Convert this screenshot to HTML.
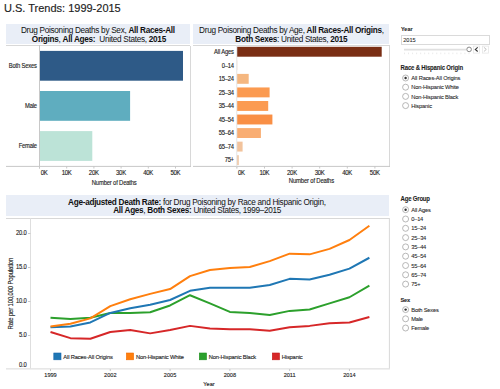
<!DOCTYPE html>
<html><head><meta charset="utf-8"><style>
html,body{margin:0;padding:0;background:#fff;width:500px;height:389px;overflow:hidden}
svg{display:block;font-family:"Liberation Sans", sans-serif}
</style></head><body>
<svg width="500" height="389" viewBox="0 0 500 389">
<text transform="translate(4,11.9) scale(1,1.06)" font-size="11" text-anchor="start" font-weight="normal" fill="#222" stroke="#222" stroke-width="0.15">U.S. Trends: 1999-2015</text>
<rect x="6" y="24" width="184" height="20" fill="#e9eef7" />
<text transform="translate(98,33.2) scale(1,1.0)" font-size="8.21" textLength="154.08" lengthAdjust="spacing" text-anchor="middle" font-weight="normal" fill="#111" >Drug Poisoning Deaths by Sex, <tspan font-weight="bold">All Races-All</tspan></text>
<text transform="translate(99,41.7) scale(1,1.0)" font-size="8.21" textLength="134.41" lengthAdjust="spacing" text-anchor="middle" font-weight="normal" fill="#111" xml:space="preserve"><tspan font-weight="bold">Origins</tspan>, <tspan font-weight="bold">All Ages:</tspan>  United States, <tspan font-weight="bold">2015</tspan></text>
<line x1="6" y1="45.5" x2="190" y2="45.5" stroke="#d8d8d8" stroke-width="1" />
<line x1="190.5" y1="46" x2="190.5" y2="167" stroke="#d8d8d8" stroke-width="1" />
<rect x="40" y="50.9" width="143" height="29.8" fill="#2e5a87" />
<text transform="translate(37,67.8) scale(1,1.08)" font-size="5.83" textLength="28.14" lengthAdjust="spacing" text-anchor="end" font-weight="normal" fill="#1e1e1e"  stroke="#1e1e1e" stroke-width="0.12">Both Sexes</text>
<rect x="40" y="91.0" width="90.1" height="29.8" fill="#5fadbf" />
<text transform="translate(37,107.9) scale(1,1.08)" font-size="5.83" textLength="11.92" lengthAdjust="spacing" text-anchor="end" font-weight="normal" fill="#1e1e1e"  stroke="#1e1e1e" stroke-width="0.12">Male</text>
<rect x="40" y="131.1" width="52.3" height="29.8" fill="#bce3d7" />
<text transform="translate(37,148.0) scale(1,1.08)" font-size="5.83" textLength="18.34" lengthAdjust="spacing" text-anchor="end" font-weight="normal" fill="#1e1e1e"  stroke="#1e1e1e" stroke-width="0.12">Female</text>
<line x1="6" y1="166.4" x2="191" y2="166.4" stroke="#c8c8c8" stroke-width="1" />
<line x1="39.5" y1="45" x2="39.5" y2="168.5" stroke="#c8c8c8" stroke-width="1" />
<line x1="39.5" y1="166" x2="39.5" y2="168.5" stroke="#c8c8c8" stroke-width="1" />
<text transform="translate(44.2,175) scale(1,1.08)" font-size="6.04" textLength="6.97" lengthAdjust="spacing" text-anchor="middle" font-weight="normal" fill="#1e1e1e"  stroke="#1e1e1e" stroke-width="0.12">0K</text>
<line x1="66.7" y1="166" x2="66.7" y2="168.5" stroke="#c8c8c8" stroke-width="1" />
<text transform="translate(66.7,175) scale(1,1.08)" font-size="6.04" textLength="10.12" lengthAdjust="spacing" text-anchor="middle" font-weight="normal" fill="#1e1e1e"  stroke="#1e1e1e" stroke-width="0.12">10K</text>
<line x1="93.9" y1="166" x2="93.9" y2="168.5" stroke="#c8c8c8" stroke-width="1" />
<text transform="translate(93.9,175) scale(1,1.08)" font-size="6.04" textLength="10.12" lengthAdjust="spacing" text-anchor="middle" font-weight="normal" fill="#1e1e1e"  stroke="#1e1e1e" stroke-width="0.12">20K</text>
<line x1="121.1" y1="166" x2="121.1" y2="168.5" stroke="#c8c8c8" stroke-width="1" />
<text transform="translate(121.1,175) scale(1,1.08)" font-size="6.04" textLength="10.12" lengthAdjust="spacing" text-anchor="middle" font-weight="normal" fill="#1e1e1e"  stroke="#1e1e1e" stroke-width="0.12">30K</text>
<line x1="148.3" y1="166" x2="148.3" y2="168.5" stroke="#c8c8c8" stroke-width="1" />
<text transform="translate(148.3,175) scale(1,1.08)" font-size="6.04" textLength="10.12" lengthAdjust="spacing" text-anchor="middle" font-weight="normal" fill="#1e1e1e"  stroke="#1e1e1e" stroke-width="0.12">40K</text>
<line x1="175.5" y1="166" x2="175.5" y2="168.5" stroke="#c8c8c8" stroke-width="1" />
<text transform="translate(175.5,175) scale(1,1.08)" font-size="6.04" textLength="10.12" lengthAdjust="spacing" text-anchor="middle" font-weight="normal" fill="#1e1e1e"  stroke="#1e1e1e" stroke-width="0.12">50K</text>
<text transform="translate(114.3,184.5) scale(1,1.08)" font-size="5.88" textLength="45.02" lengthAdjust="spacing" text-anchor="middle" font-weight="normal" fill="#1e1e1e"  stroke="#1e1e1e" stroke-width="0.12">Number of Deaths</text>
<rect x="193" y="24" width="196" height="20" fill="#e9eef7" />
<text transform="translate(291.5,33.1) scale(1,1.0)" font-size="8.21" textLength="184.91" lengthAdjust="spacing" text-anchor="middle" font-weight="normal" fill="#111" >Drug Poisoning Deaths by Age, <tspan font-weight="bold">All Races-All Origins</tspan>,</text>
<text transform="translate(291.5,41.6) scale(1,1.0)" font-size="8.21" textLength="112.30" lengthAdjust="spacing" text-anchor="middle" font-weight="normal" fill="#111" ><tspan font-weight="bold">Both Sexes</tspan>: United States, <tspan font-weight="bold">2015</tspan></text>
<line x1="193" y1="45.5" x2="390" y2="45.5" stroke="#d8d8d8" stroke-width="1" />
<line x1="389.5" y1="46" x2="389.5" y2="167" stroke="#d8d8d8" stroke-width="1" />
<rect x="237" y="46.8" width="144.7" height="9.9" fill="#7a2e14" />
<text transform="translate(234,54.0) scale(1,1.08)" font-size="5.83" textLength="19.88" lengthAdjust="spacing" text-anchor="end" font-weight="normal" fill="#1e1e1e"  stroke="#1e1e1e" stroke-width="0.12">All Ages</text>
<rect x="237" y="60.349999999999994" width="0.19999999999998863" height="9.9" fill="#f5c39a" />
<text transform="translate(234,67.55) scale(1,1.08)" font-size="5.83" textLength="12.25" lengthAdjust="spacing" text-anchor="end" font-weight="normal" fill="#1e1e1e"  stroke="#1e1e1e" stroke-width="0.12">0–14</text>
<rect x="237" y="73.9" width="11.699999999999989" height="9.9" fill="#f5b780" />
<text transform="translate(234,81.10000000000001) scale(1,1.08)" font-size="5.83" textLength="15.30" lengthAdjust="spacing" text-anchor="end" font-weight="normal" fill="#1e1e1e"  stroke="#1e1e1e" stroke-width="0.12">15–24</text>
<rect x="237" y="87.45" width="32.60000000000002" height="9.9" fill="#fb9a50" />
<text transform="translate(234,94.65) scale(1,1.08)" font-size="5.83" textLength="15.30" lengthAdjust="spacing" text-anchor="end" font-weight="normal" fill="#1e1e1e"  stroke="#1e1e1e" stroke-width="0.12">25–34</text>
<rect x="237" y="101.0" width="31.19999999999999" height="9.9" fill="#fb9b52" />
<text transform="translate(234,108.2) scale(1,1.08)" font-size="5.83" textLength="15.30" lengthAdjust="spacing" text-anchor="end" font-weight="normal" fill="#1e1e1e"  stroke="#1e1e1e" stroke-width="0.12">35–44</text>
<rect x="237" y="114.55" width="35.39999999999998" height="9.9" fill="#f98f45" />
<text transform="translate(234,121.75) scale(1,1.08)" font-size="5.83" textLength="15.30" lengthAdjust="spacing" text-anchor="end" font-weight="normal" fill="#1e1e1e"  stroke="#1e1e1e" stroke-width="0.12">45–54</text>
<rect x="237" y="128.10000000000002" width="23.899999999999977" height="9.9" fill="#f9ad72" />
<text transform="translate(234,135.3) scale(1,1.08)" font-size="5.83" textLength="15.30" lengthAdjust="spacing" text-anchor="end" font-weight="normal" fill="#1e1e1e"  stroke="#1e1e1e" stroke-width="0.12">55–64</text>
<rect x="237" y="141.65" width="5.599999999999994" height="9.9" fill="#f2c39c" />
<text transform="translate(234,148.85) scale(1,1.08)" font-size="5.83" textLength="15.30" lengthAdjust="spacing" text-anchor="end" font-weight="normal" fill="#1e1e1e"  stroke="#1e1e1e" stroke-width="0.12">65–74</text>
<rect x="237" y="155.2" width="1.8000000000000114" height="9.9" fill="#f0c7a5" />
<text transform="translate(234,162.39999999999998) scale(1,1.08)" font-size="5.83" textLength="9.34" lengthAdjust="spacing" text-anchor="end" font-weight="normal" fill="#1e1e1e"  stroke="#1e1e1e" stroke-width="0.12">75+</text>
<line x1="193" y1="166.4" x2="390" y2="166.4" stroke="#c8c8c8" stroke-width="1" />
<line x1="236.75" y1="45" x2="236.75" y2="168.5" stroke="#e4e4e4" stroke-width="1" />
<line x1="236.9" y1="166" x2="236.9" y2="168.5" stroke="#c8c8c8" stroke-width="1" />
<text transform="translate(241.6,175) scale(1,1.08)" font-size="6.04" textLength="6.97" lengthAdjust="spacing" text-anchor="middle" font-weight="normal" fill="#1e1e1e"  stroke="#1e1e1e" stroke-width="0.12">0K</text>
<line x1="264.5" y1="166" x2="264.5" y2="168.5" stroke="#c8c8c8" stroke-width="1" />
<text transform="translate(264.5,175) scale(1,1.08)" font-size="6.04" textLength="10.12" lengthAdjust="spacing" text-anchor="middle" font-weight="normal" fill="#1e1e1e"  stroke="#1e1e1e" stroke-width="0.12">10K</text>
<line x1="292.1" y1="166" x2="292.1" y2="168.5" stroke="#c8c8c8" stroke-width="1" />
<text transform="translate(292.1,175) scale(1,1.08)" font-size="6.04" textLength="10.12" lengthAdjust="spacing" text-anchor="middle" font-weight="normal" fill="#1e1e1e"  stroke="#1e1e1e" stroke-width="0.12">20K</text>
<line x1="319.70000000000005" y1="166" x2="319.70000000000005" y2="168.5" stroke="#c8c8c8" stroke-width="1" />
<text transform="translate(319.70000000000005,175) scale(1,1.08)" font-size="6.04" textLength="10.12" lengthAdjust="spacing" text-anchor="middle" font-weight="normal" fill="#1e1e1e"  stroke="#1e1e1e" stroke-width="0.12">30K</text>
<line x1="347.3" y1="166" x2="347.3" y2="168.5" stroke="#c8c8c8" stroke-width="1" />
<text transform="translate(347.3,175) scale(1,1.08)" font-size="6.04" textLength="10.12" lengthAdjust="spacing" text-anchor="middle" font-weight="normal" fill="#1e1e1e"  stroke="#1e1e1e" stroke-width="0.12">40K</text>
<line x1="374.9" y1="166" x2="374.9" y2="168.5" stroke="#c8c8c8" stroke-width="1" />
<text transform="translate(374.9,175) scale(1,1.08)" font-size="6.04" textLength="10.12" lengthAdjust="spacing" text-anchor="middle" font-weight="normal" fill="#1e1e1e"  stroke="#1e1e1e" stroke-width="0.12">50K</text>
<text transform="translate(311.5,182.9) scale(1,1.08)" font-size="5.94" textLength="45.41" lengthAdjust="spacing" text-anchor="middle" font-weight="normal" fill="#1e1e1e"  stroke="#1e1e1e" stroke-width="0.12">Number of Deaths</text>
<rect x="6" y="195" width="383" height="21" fill="#e9eef7" />
<text transform="translate(197,205.1) scale(1,1.0)" font-size="8.21" textLength="257.88" lengthAdjust="spacing" text-anchor="middle" font-weight="normal" fill="#111" ><tspan font-weight="bold">Age-adjusted Death Rate:</tspan> for Drug Poisoning by Race and Hispanic Origin,</text>
<text transform="translate(197.3,213.3) scale(1,1.0)" font-size="8.21" textLength="168.17" lengthAdjust="spacing" text-anchor="middle" font-weight="normal" fill="#111" ><tspan font-weight="bold">All Ages</tspan>, <tspan font-weight="bold">Both Sexes:</tspan> United States, 1999–2015</text>
<line x1="6" y1="218.5" x2="389" y2="218.5" stroke="#d8d8d8" stroke-width="1" />
<line x1="389.4" y1="218" x2="389.4" y2="368.5" stroke="#d8d8d8" stroke-width="1" />
<line x1="6" y1="368.9" x2="389.9" y2="368.9" stroke="#d8d8d8" stroke-width="1" />
<line x1="30.5" y1="218" x2="30.5" y2="368.5" stroke="#dedede" stroke-width="1" />
<text transform="translate(26.7,366.8) scale(1,1.08)" font-size="5.83" textLength="7.66" lengthAdjust="spacing" text-anchor="end" font-weight="normal" fill="#1e1e1e"  stroke="#1e1e1e" stroke-width="0.12">0.0</text>
<line x1="28" y1="335.5" x2="30.5" y2="335.5" stroke="#c8c8c8" stroke-width="1" />
<text transform="translate(26.7,336.83500000000004) scale(1,1.08)" font-size="5.83" textLength="7.66" lengthAdjust="spacing" text-anchor="end" font-weight="normal" fill="#1e1e1e"  stroke="#1e1e1e" stroke-width="0.12">5.0</text>
<line x1="28" y1="301.5" x2="30.5" y2="301.5" stroke="#c8c8c8" stroke-width="1" />
<text transform="translate(26.7,302.77000000000004) scale(1,1.08)" font-size="5.83" textLength="10.72" lengthAdjust="spacing" text-anchor="end" font-weight="normal" fill="#1e1e1e"  stroke="#1e1e1e" stroke-width="0.12">10.0</text>
<line x1="28" y1="267.5" x2="30.5" y2="267.5" stroke="#c8c8c8" stroke-width="1" />
<text transform="translate(26.7,268.70500000000004) scale(1,1.08)" font-size="5.83" textLength="10.72" lengthAdjust="spacing" text-anchor="end" font-weight="normal" fill="#1e1e1e"  stroke="#1e1e1e" stroke-width="0.12">15.0</text>
<line x1="28" y1="233.5" x2="30.5" y2="233.5" stroke="#c8c8c8" stroke-width="1" />
<text transform="translate(26.7,234.64000000000001) scale(1,1.08)" font-size="5.83" textLength="10.72" lengthAdjust="spacing" text-anchor="end" font-weight="normal" fill="#1e1e1e"  stroke="#1e1e1e" stroke-width="0.12">20.0</text>
<text x="0" y="0" font-size="5.99" textLength="71.83" lengthAdjust="spacing" text-anchor="middle" font-weight="normal" fill="#1e1e1e" transform="translate(13.3,293.6) rotate(-90) scale(1,1.1)" stroke="#1e1e1e" stroke-width="0.12">Rate per 100,000 Population</text>
<line x1="50.5" y1="369" x2="50.5" y2="371" stroke="#c8c8c8" stroke-width="1" />
<text transform="translate(50.5,377.1) scale(1,1.0)" font-size="5.6" text-anchor="middle" font-weight="normal" fill="#1e1e1e"  stroke="#1e1e1e" stroke-width="0.12">1999</text>
<line x1="110.28999999999999" y1="369" x2="110.28999999999999" y2="371" stroke="#c8c8c8" stroke-width="1" />
<text transform="translate(110.28999999999999,377.1) scale(1,1.0)" font-size="5.6" text-anchor="middle" font-weight="normal" fill="#1e1e1e"  stroke="#1e1e1e" stroke-width="0.12">2002</text>
<line x1="170.07999999999998" y1="369" x2="170.07999999999998" y2="371" stroke="#c8c8c8" stroke-width="1" />
<text transform="translate(170.07999999999998,377.1) scale(1,1.0)" font-size="5.6" text-anchor="middle" font-weight="normal" fill="#1e1e1e"  stroke="#1e1e1e" stroke-width="0.12">2005</text>
<line x1="229.87" y1="369" x2="229.87" y2="371" stroke="#c8c8c8" stroke-width="1" />
<text transform="translate(229.87,377.1) scale(1,1.0)" font-size="5.6" text-anchor="middle" font-weight="normal" fill="#1e1e1e"  stroke="#1e1e1e" stroke-width="0.12">2008</text>
<line x1="289.65999999999997" y1="369" x2="289.65999999999997" y2="371" stroke="#c8c8c8" stroke-width="1" />
<text transform="translate(289.65999999999997,377.1) scale(1,1.0)" font-size="5.6" text-anchor="middle" font-weight="normal" fill="#1e1e1e"  stroke="#1e1e1e" stroke-width="0.12">2011</text>
<line x1="349.45" y1="369" x2="349.45" y2="371" stroke="#c8c8c8" stroke-width="1" />
<text transform="translate(349.45,377.1) scale(1,1.0)" font-size="5.6" text-anchor="middle" font-weight="normal" fill="#1e1e1e"  stroke="#1e1e1e" stroke-width="0.12">2014</text>
<text transform="translate(209,385.6) scale(1,1.05)" font-size="5.6" text-anchor="middle" font-weight="normal" fill="#1e1e1e"  stroke="#1e1e1e" stroke-width="0.12">Year</text>
<polyline points="50.50,332.01 70.43,338.14 90.36,338.82 110.29,332.01 130.22,329.97 150.15,333.37 170.08,329.97 190.01,325.88 209.94,328.60 229.87,329.28 249.80,329.28 269.73,330.65 289.66,327.24 309.59,325.88 329.52,323.15 349.45,322.47 369.38,317.02" fill="none" stroke="#d62728" stroke-width="2" stroke-linejoin="round"/>
<polyline points="50.50,317.70 70.43,319.07 90.36,317.70 110.29,312.93 130.22,312.93 150.15,312.25 170.08,305.44 190.01,295.22 209.94,303.40 229.87,311.91 249.80,312.93 269.73,314.98 289.66,310.89 309.59,309.53 329.52,303.40 349.45,297.26 369.38,285.68" fill="none" stroke="#2ca02c" stroke-width="2" stroke-linejoin="round"/>
<polyline points="50.50,327.24 70.43,326.56 90.36,322.47 110.29,312.93 130.22,308.16 150.15,304.76 170.08,299.99 190.01,290.79 209.94,287.73 229.87,287.73 249.80,287.73 269.73,285.00 289.66,278.87 309.59,279.55 329.52,274.78 349.45,268.65 369.38,257.75" fill="none" stroke="#1f77b4" stroke-width="2" stroke-linejoin="round"/>
<polyline points="50.50,326.56 70.43,323.83 90.36,318.38 110.29,306.12 130.22,299.31 150.15,293.86 170.08,289.09 190.01,276.14 209.94,270.01 229.87,267.97 249.80,266.95 269.73,261.15 289.66,253.66 309.59,254.34 329.52,248.89 349.45,240.03 369.38,225.73" fill="none" stroke="#ff7f0e" stroke-width="2" stroke-linejoin="round"/>
<rect x="53.8" y="353.0" width="7.2" height="6.8" fill="#1f77b4" stroke="#1565ad" stroke-width="0.6"/>
<text transform="translate(63.3,358.8) scale(1,1.08)" font-size="5.78" textLength="49.56" lengthAdjust="spacing" text-anchor="start" font-weight="normal" fill="#1e1e1e"  stroke="#1e1e1e" stroke-width="0.12">All Races-All Origins</text>
<rect x="126.39999999999999" y="353.0" width="7.2" height="6.8" fill="#ff7f0e" stroke="#f06a00" stroke-width="0.6"/>
<text transform="translate(135.9,358.8) scale(1,1.08)" font-size="5.78" textLength="48.06" lengthAdjust="spacing" text-anchor="start" font-weight="normal" fill="#1e1e1e"  stroke="#1e1e1e" stroke-width="0.12">Non-Hispanic White</text>
<rect x="199.3" y="353.0" width="7.2" height="6.8" fill="#2ca02c" stroke="#1f8f1f" stroke-width="0.6"/>
<text transform="translate(208.8,358.8) scale(1,1.08)" font-size="5.78" textLength="47.45" lengthAdjust="spacing" text-anchor="start" font-weight="normal" fill="#1e1e1e"  stroke="#1e1e1e" stroke-width="0.12">Non-Hispanic Black</text>
<rect x="272.3" y="353.0" width="7.2" height="6.8" fill="#d62728" stroke="#c41a1b" stroke-width="0.6"/>
<text transform="translate(281.8,358.8) scale(1,1.08)" font-size="5.78" textLength="20.86" lengthAdjust="spacing" text-anchor="start" font-weight="normal" fill="#1e1e1e"  stroke="#1e1e1e" stroke-width="0.12">Hispanic</text>
<text transform="translate(401,31.1) scale(1,1.05)" font-size="5.5" text-anchor="start" font-weight="bold" fill="#1e1e1e"  stroke="#1e1e1e" stroke-width="0.08">Year</text>
<rect x="401.5" y="35.5" width="88" height="9" fill="#fff" stroke="#dadada" stroke-width="1"/>
<text transform="translate(403.2,42.2) scale(1,1.02)" font-size="5.6" text-anchor="start" font-weight="normal" fill="#1e1e1e"  stroke="#1e1e1e" stroke-width="0.08">2015</text>
<line x1="404" y1="49.6" x2="466" y2="49.6" stroke="#e0e0e0" stroke-width="1.6" />
<line x1="404.5" y1="52.6" x2="404.5" y2="54.2" stroke="#e3e3e3" stroke-width="0.7" />
<line x1="408.53" y1="52.6" x2="408.53" y2="54.2" stroke="#e3e3e3" stroke-width="0.7" />
<line x1="412.56" y1="52.6" x2="412.56" y2="54.2" stroke="#e3e3e3" stroke-width="0.7" />
<line x1="416.59" y1="52.6" x2="416.59" y2="54.2" stroke="#e3e3e3" stroke-width="0.7" />
<line x1="420.62" y1="52.6" x2="420.62" y2="54.2" stroke="#e3e3e3" stroke-width="0.7" />
<line x1="424.65" y1="52.6" x2="424.65" y2="54.2" stroke="#e3e3e3" stroke-width="0.7" />
<line x1="428.68" y1="52.6" x2="428.68" y2="54.2" stroke="#e3e3e3" stroke-width="0.7" />
<line x1="432.71" y1="52.6" x2="432.71" y2="54.2" stroke="#e3e3e3" stroke-width="0.7" />
<line x1="436.74" y1="52.6" x2="436.74" y2="54.2" stroke="#e3e3e3" stroke-width="0.7" />
<line x1="440.77" y1="52.6" x2="440.77" y2="54.2" stroke="#e3e3e3" stroke-width="0.7" />
<line x1="444.8" y1="52.6" x2="444.8" y2="54.2" stroke="#e3e3e3" stroke-width="0.7" />
<line x1="448.83" y1="52.6" x2="448.83" y2="54.2" stroke="#e3e3e3" stroke-width="0.7" />
<line x1="452.86" y1="52.6" x2="452.86" y2="54.2" stroke="#e3e3e3" stroke-width="0.7" />
<line x1="456.89" y1="52.6" x2="456.89" y2="54.2" stroke="#e3e3e3" stroke-width="0.7" />
<line x1="460.92" y1="52.6" x2="460.92" y2="54.2" stroke="#e3e3e3" stroke-width="0.7" />
<line x1="464.95" y1="52.6" x2="464.95" y2="54.2" stroke="#e3e3e3" stroke-width="0.7" />
<line x1="468.98" y1="52.6" x2="468.98" y2="54.2" stroke="#e3e3e3" stroke-width="0.7" />
<circle cx="469.1" cy="49.4" r="2.3" fill="#fff" stroke="#888" stroke-width="1"/>
<rect x="473.5" y="46.1" width="6" height="7" fill="#fff" stroke="#e6e6e6" stroke-width="0.8"/>
<polyline points="477.7,47.3 475.3,49.4 477.7,51.5" fill="none" stroke="#333" stroke-width="1.1"/>
<rect x="482.4" y="46.1" width="6" height="7" fill="#fff" stroke="#e6e6e6" stroke-width="0.8"/>
<polyline points="483.9,47.3 486.3,49.4 483.9,51.5" fill="none" stroke="#bbb" stroke-width="0.9"/>
<text transform="translate(400.6,69.6) scale(1,1.08)" font-size="6.01" textLength="62.56" lengthAdjust="spacing" text-anchor="start" font-weight="bold" fill="#1e1e1e"  stroke="#1e1e1e" stroke-width="0.08">Race &amp; Hispanic Origin</text>
<circle cx="405.6" cy="78.00" r="3.0" fill="#fff" stroke="#999" stroke-width="0.7"/>
<circle cx="405.6" cy="78.00" r="1.2" fill="#333"/>
<text transform="translate(411.3,80.10) scale(1,1.08)" font-size="5.72" textLength="49.14" lengthAdjust="spacing" text-anchor="start" font-weight="normal" fill="#1e1e1e"  stroke="#1e1e1e" stroke-width="0.08">All Races-All Origins</text>
<circle cx="405.6" cy="87.20" r="3.0" fill="#fff" stroke="#999" stroke-width="0.7"/>
<text transform="translate(411.3,89.30) scale(1,1.08)" font-size="5.72" textLength="47.64" lengthAdjust="spacing" text-anchor="start" font-weight="normal" fill="#1e1e1e"  stroke="#1e1e1e" stroke-width="0.08">Non-Hispanic White</text>
<circle cx="405.6" cy="96.40" r="3.0" fill="#fff" stroke="#999" stroke-width="0.7"/>
<text transform="translate(411.3,98.50) scale(1,1.08)" font-size="5.72" textLength="47.05" lengthAdjust="spacing" text-anchor="start" font-weight="normal" fill="#1e1e1e"  stroke="#1e1e1e" stroke-width="0.08">Non-Hispanic Black</text>
<circle cx="405.6" cy="105.60" r="3.0" fill="#fff" stroke="#999" stroke-width="0.7"/>
<text transform="translate(411.3,107.70) scale(1,1.08)" font-size="5.72" textLength="20.69" lengthAdjust="spacing" text-anchor="start" font-weight="normal" fill="#1e1e1e"  stroke="#1e1e1e" stroke-width="0.08">Hispanic</text>
<text transform="translate(400.6,201.3) scale(1,1.08)" font-size="6.04" textLength="29.39" lengthAdjust="spacing" text-anchor="start" font-weight="bold" fill="#1e1e1e"  stroke="#1e1e1e" stroke-width="0.08">Age Group</text>
<circle cx="405.6" cy="209.70" r="3.0" fill="#fff" stroke="#999" stroke-width="0.7"/>
<circle cx="405.6" cy="209.70" r="1.2" fill="#333"/>
<text transform="translate(411.3,211.80) scale(1,1.08)" font-size="5.72" textLength="19.48" lengthAdjust="spacing" text-anchor="start" font-weight="normal" fill="#1e1e1e"  stroke="#1e1e1e" stroke-width="0.08">All Ages</text>
<circle cx="405.6" cy="219.00" r="3.0" fill="#fff" stroke="#999" stroke-width="0.7"/>
<text transform="translate(411.3,221.10) scale(1,1.08)" font-size="5.72" textLength="12.00" lengthAdjust="spacing" text-anchor="start" font-weight="normal" fill="#1e1e1e"  stroke="#1e1e1e" stroke-width="0.08">0–14</text>
<circle cx="405.6" cy="228.30" r="3.0" fill="#fff" stroke="#999" stroke-width="0.7"/>
<text transform="translate(411.3,230.40) scale(1,1.08)" font-size="5.72" textLength="15.00" lengthAdjust="spacing" text-anchor="start" font-weight="normal" fill="#1e1e1e"  stroke="#1e1e1e" stroke-width="0.08">15–24</text>
<circle cx="405.6" cy="237.60" r="3.0" fill="#fff" stroke="#999" stroke-width="0.7"/>
<text transform="translate(411.3,239.70) scale(1,1.08)" font-size="5.72" textLength="15.00" lengthAdjust="spacing" text-anchor="start" font-weight="normal" fill="#1e1e1e"  stroke="#1e1e1e" stroke-width="0.08">25–34</text>
<circle cx="405.6" cy="246.90" r="3.0" fill="#fff" stroke="#999" stroke-width="0.7"/>
<text transform="translate(411.3,249.00) scale(1,1.08)" font-size="5.72" textLength="15.00" lengthAdjust="spacing" text-anchor="start" font-weight="normal" fill="#1e1e1e"  stroke="#1e1e1e" stroke-width="0.08">35–44</text>
<circle cx="405.6" cy="256.20" r="3.0" fill="#fff" stroke="#999" stroke-width="0.7"/>
<text transform="translate(411.3,258.30) scale(1,1.08)" font-size="5.72" textLength="15.00" lengthAdjust="spacing" text-anchor="start" font-weight="normal" fill="#1e1e1e"  stroke="#1e1e1e" stroke-width="0.08">45–54</text>
<circle cx="405.6" cy="265.50" r="3.0" fill="#fff" stroke="#999" stroke-width="0.7"/>
<text transform="translate(411.3,267.60) scale(1,1.08)" font-size="5.72" textLength="15.00" lengthAdjust="spacing" text-anchor="start" font-weight="normal" fill="#1e1e1e"  stroke="#1e1e1e" stroke-width="0.08">55–64</text>
<circle cx="405.6" cy="274.80" r="3.0" fill="#fff" stroke="#999" stroke-width="0.7"/>
<text transform="translate(411.3,276.90) scale(1,1.08)" font-size="5.72" textLength="15.00" lengthAdjust="spacing" text-anchor="start" font-weight="normal" fill="#1e1e1e"  stroke="#1e1e1e" stroke-width="0.08">65–74</text>
<circle cx="405.6" cy="284.10" r="3.0" fill="#fff" stroke="#999" stroke-width="0.7"/>
<text transform="translate(411.3,286.20) scale(1,1.08)" font-size="5.72" textLength="9.16" lengthAdjust="spacing" text-anchor="start" font-weight="normal" fill="#1e1e1e"  stroke="#1e1e1e" stroke-width="0.08">75+</text>
<text transform="translate(400.6,301.5) scale(1,1.08)" font-size="5.72" textLength="9.59" lengthAdjust="spacing" text-anchor="start" font-weight="bold" fill="#1e1e1e"  stroke="#1e1e1e" stroke-width="0.08">Sex</text>
<circle cx="405.6" cy="309.60" r="3.0" fill="#fff" stroke="#999" stroke-width="0.7"/>
<circle cx="405.6" cy="309.60" r="1.2" fill="#333"/>
<text transform="translate(411.3,311.70) scale(1,1.08)" font-size="5.72" textLength="27.58" lengthAdjust="spacing" text-anchor="start" font-weight="normal" fill="#1e1e1e"  stroke="#1e1e1e" stroke-width="0.08">Both Sexes</text>
<circle cx="405.6" cy="318.80" r="3.0" fill="#fff" stroke="#999" stroke-width="0.7"/>
<text transform="translate(411.3,320.90) scale(1,1.08)" font-size="5.72" textLength="11.69" lengthAdjust="spacing" text-anchor="start" font-weight="normal" fill="#1e1e1e"  stroke="#1e1e1e" stroke-width="0.08">Male</text>
<circle cx="405.6" cy="328.00" r="3.0" fill="#fff" stroke="#999" stroke-width="0.7"/>
<text transform="translate(411.3,330.10) scale(1,1.08)" font-size="5.72" textLength="17.98" lengthAdjust="spacing" text-anchor="start" font-weight="normal" fill="#1e1e1e"  stroke="#1e1e1e" stroke-width="0.08">Female</text>
</svg>
</body></html>
